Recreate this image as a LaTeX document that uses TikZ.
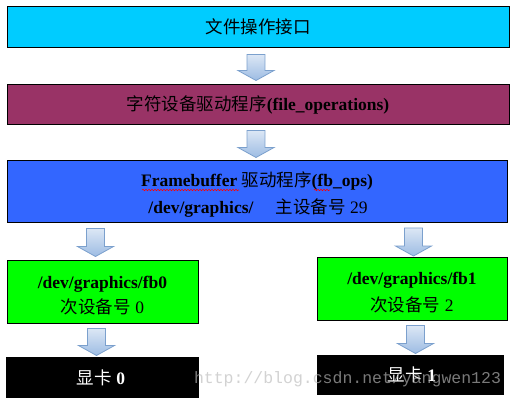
\documentclass[tikz,border=0pt]{standalone}
\usepackage{fontspec}
\setmainfont{Liberation Serif}
\newfontfamily\cjk{Noto Sans CJK SC}
\newfontfamily\wmfont{Liberation Mono}
\usetikzlibrary{shapes.arrows,decorations.pathmorphing}
\definecolor{cyanbox}{HTML}{00CCFF}
\definecolor{maroonbox}{HTML}{993366}
\definecolor{bluebox}{HTML}{3366FF}
\definecolor{greenbox}{HTML}{00FF00}
\definecolor{arrowedge}{HTML}{7BA0CD}
\definecolor{arrowtop}{HTML}{DCE7F5}
\definecolor{arrowbot}{HTML}{9DBCE3}
\definecolor{wmgray}{HTML}{BBBBBB}
\begin{document}
\begin{tikzpicture}[x=1pt,y=-1pt,
  box/.style={draw=black,line width=0.8pt,inner sep=0pt},
  txt/.style={inner sep=0pt,anchor=base,font=\fontsize{17.5}{26}\selectfont},
  darrow/.style={single arrow,shape border rotate=270,inner sep=8.5pt,
    minimum width=36pt,single arrow tip angle=122,single arrow head extend=9pt,
    draw=arrowedge,top color=arrowtop,bottom color=arrowbot,line width=0.8pt},
  squiggle/.style={red,line width=0.6pt,decorate,
    decoration={snake,amplitude=0.7pt,segment length=3pt}}]
\fill[white] (0,0) rectangle (513,400);
\useasboundingbox (0,0) rectangle (513,400);

% boxes
\node[box,fill=cyanbox,minimum width=502pt,minimum height=41pt] (b1) at (258,26.5) {};
\node[box,fill=maroonbox,minimum width=502pt,minimum height=40pt] (b2) at (258,104) {};
\node[box,fill=bluebox,minimum width=500pt,minimum height=62pt] (b3) at (257,191) {};
\node[box,fill=greenbox,minimum width=191pt,minimum height=63pt] (b4l) at (102.5,291.5) {};
\node[box,fill=greenbox,minimum width=190pt,minimum height=63pt] (b4r) at (412,288.5) {};
\node[box,fill=black,minimum width=192pt,minimum height=40pt] (b5l) at (102,377) {};
\node[box,fill=black,minimum width=186pt,minimum height=39pt] (b5r) at (410,374.5) {};

% texts
\node[txt] (t1) at (258,33) {{\cjk 文件操作接口}};
\node[txt] (t2) at (258,110.5) {{\cjk 字符设备驱动程序}\textbf{(file\_operations)}};
\node[txt] (t3a) at (257,186.5) {\textbf{Framebuffer} {\cjk 驱动程序}\textbf{(fb\_ops)}};
\node[txt] (t3b) at (258,213.5) {\textbf{/dev/graphics/}\hspace{22pt}{\cjk 主设备号} 29};
\node[txt] (t4la) at (102.5,288) {\textbf{/dev/graphics/fb0}};
\node[txt] (t4lb) at (102.5,313.5) {{\cjk 次设备号} 0};
\node[txt] (t4ra) at (412,284) {\textbf{/dev/graphics/fb1}};
\node[txt] (t4rb) at (412,311.5) {{\cjk 次设备号} 2};
\node[txt,text=white] (t5l) at (101,384) {{\cjk 显卡} \textbf{0}};
\node[txt,text=white] (t5r) at (412,381) {{\cjk 显卡} \textbf{1}};

% block arrows
\node[darrow,minimum height=26pt] (a1) at (256,65) {};
\node[darrow,minimum height=27pt] (a2) at (256,141.5) {};
\node[darrow,minimum height=28pt] (a3l) at (95.5,240) {};
\node[darrow,minimum height=28pt] (a3r) at (413.5,239.5) {};
\node[darrow,minimum height=27pt] (a4l) at (96.5,339.5) {};
\node[darrow,minimum height=28pt] (a4r) at (415.5,337) {};

% spell-check marks
\draw[squiggle] (142,190) -- (239,190);
\draw[squiggle] (314,190) -- (330,190);

% watermark
\node[text=wmgray,text opacity=0.65,font=\wmfont\fontsize{16.5}{18}\selectfont,inner sep=0pt]
  (wm) at (347.5,379) {http://blog.csdn.net/yangwen123};
\end{tikzpicture}
\end{document}
